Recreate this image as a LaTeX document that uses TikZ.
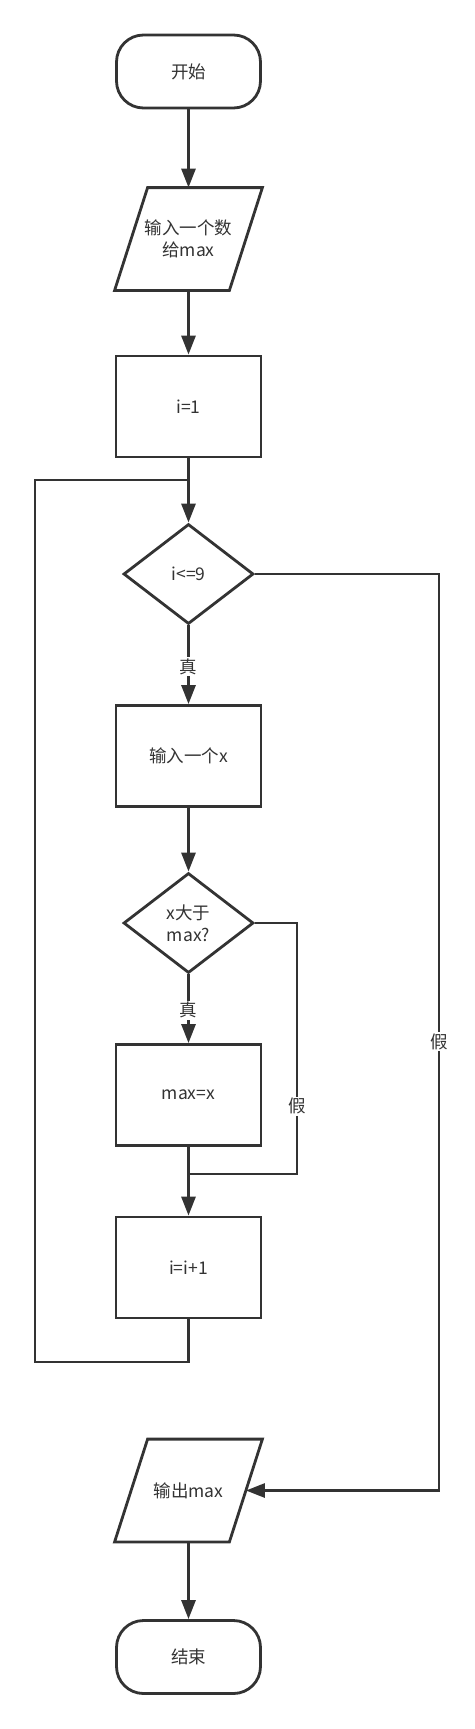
\documentclass[tikz,border=0pt]{standalone}
\usepackage{fontspec}
\setmainfont{Noto Sans CJK SC}
\usetikzlibrary{shapes.geometric,arrows.meta,calc}
\definecolor{ink}{HTML}{333333}
\definecolor{txt}{HTML}{333333}
\begin{document}
\begin{tikzpicture}[x=1pt,y=-1pt,
  base/.style={draw=ink,line width=2.8pt,fill=white,text=txt,font=\fontsize{17.5}{22}\selectfont,inner sep=1pt,align=center},
  term/.style={base,rectangle,rounded corners=27pt,minimum width=144pt,minimum height=73pt},
  procbox/.style={base,rectangle,minimum width=145pt,minimum height=101pt},
  iotext/.style={base,rectangle,draw=none,fill=none,minimum width=145pt,minimum height=100pt},
  iofrm/.style={draw=ink,line width=2.8pt,fill=white,line join=miter},
  decision/.style={base,diamond,minimum width=130pt,minimum height=100pt},
  conn/.style={draw=ink,line width=2.8pt},
  arr/.style={conn,-{Triangle[length=19pt,width=14pt]}},
  lbl/.style={fill=white,text=txt,font=\fontsize{17.5}{20}\selectfont,inner sep=1.5pt}]
\fill[white] (0,0) rectangle (474,1729);
\useasboundingbox (0,0) rectangle (474,1729);

\node[term] (start) at (188.5,71.5) {开始};
\node[iotext] (in1) at (188.5,239) {};
\draw[iofrm] (in1.south west) -- ($(in1.north west)+(33,0)$) -- (in1.north east) -- ($(in1.south east)+(-33,0)$) -- cycle;
\node[iotext] at (in1.center) {输入一个数\\给max};
\node[procbox] (b1) at (188.5,406.5) {i=1};
\node[decision] (d1) at (188.5,574) {i<=9};
\node[procbox] (b2) at (188.5,756) {输入一个x};
\node[decision] (d2) at (188.5,923) {x大于\\max?};
\node[procbox] (b3) at (188.5,1095) {max=x};
\node[procbox] (b4) at (188.5,1267.5) {i=i+1};
\node[iotext] (out) at (188.5,1490.5) {};
\draw[iofrm] (out.south west) -- ($(out.north west)+(33,0)$) -- (out.north east) -- ($(out.south east)+(-33,0)$) -- cycle;
\node[iotext] (outtxt) at (out.center) {输出max};
\node[term] (stop) at (188.5,1657) {结束};

\coordinate (oute) at ($(out.east)+(-16.5,0)$);
\coordinate (j1) at (188.5,480);
\coordinate (lb) at (188.5,1362);
\coordinate (lbl1) at (35,1362);
\coordinate (lt) at (35,480);
\coordinate (r1a) at (439,574);
\coordinate (r1b) at (439,1490.5);
\coordinate (r2a) at (297,923);
\coordinate (r2b) at (297,1174);
\coordinate (j2) at (188.5,1174);

\draw[arr] (start) -- (in1);
\draw[arr] (in1) -- (b1);
\draw[arr] (b1) -- (d1);
\draw[arr] (d1) -- node[lbl,pos=0.52]{真} (b2);
\draw[arr] (b2) -- (d2);
\draw[arr] (d2) -- node[lbl,pos=0.52]{真} (b3);
\draw[arr] (b3) -- (b4);
\draw[conn] (d2.east) -- (r2a) -- node[lbl,pos=0.73]{假} (r2b) -- (j2);
\draw[conn] (b4.south) -- (lb) -- (lbl1) -- (lt) -- (j1);
\draw[arr] (d1.east) -- (r1a) -- node[lbl,pos=0.51]{假} (r1b) -- (oute);
\draw[arr] (out) -- (stop);
\end{tikzpicture}
\end{document}
